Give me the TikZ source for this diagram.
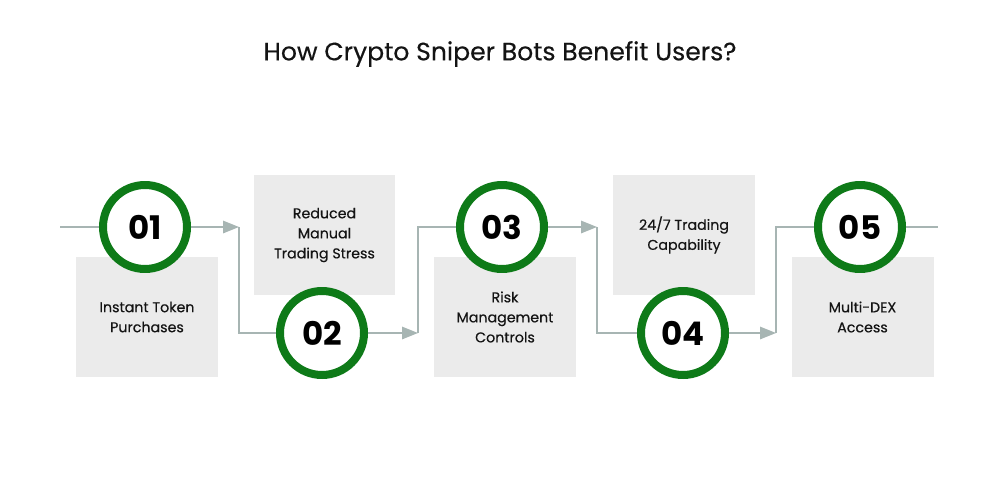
\documentclass[tikz,border=0pt]{standalone}
\usepackage{fontspec}
\setmainfont{Poppins}
\newfontfamily\medfont{Poppins}[FakeBold=0.35]
\usetikzlibrary{arrows.meta}
\definecolor{ring}{HTML}{0E7A18}
\definecolor{boxbg}{HTML}{EBEBEB}
\definecolor{connc}{HTML}{A7B5B3}
\definecolor{ink}{HTML}{141414}
\begin{document}
\begin{tikzpicture}[x=0.02cm,y=-0.02cm,
  card/.style={fill=boxbg, draw=none, minimum width=2.84cm, minimum height=2.4cm, inner sep=0pt, align=center, text=ink, font=\medfont\fontsize{8.1}{11.4}\selectfont},
  ringnode/.style={circle, draw=ring, line width=0.16cm, fill=white, minimum size=1.68cm, inner sep=0pt, text=black, font=\fontsize{18.5}{18.5}\selectfont\bfseries},
  conn/.style={draw=connc, line width=0.03cm},
  arr/.style={-{Triangle[length=0.32cm,width=0.25cm]}, fill=connc}
]
\useasboundingbox (0,0) rectangle (1000,500);
\node[text=ink, font=\medfont\fontsize{14.3}{17}\selectfont] (title) at (500,54) {How Crypto Sniper Bots Benefit Users?};
% boxes
\node[card] (b1) at (147,317) {Instant Token\\Purchases};
\node[card] (b2) at (324.5,235) {Reduced\\Manual\\Trading Stress};
\node[card] (b3) at (505,317) {Risk\\Management\\Controls};
\node[card] (b4) at (684,235) {24/7 Trading\\Capability};
\node[card] (b5) at (862.5,317) {Multi-DEX\\Access};
% circles
\node[ringnode] (c1) at (145,227) {01};
\node[ringnode] (c2) at (322,333) {02};
\node[ringnode] (c3) at (502,227) {03};
\node[ringnode] (c4) at (683,333) {04};
\node[ringnode] (c5) at (860,227) {05};
% connectors
\coordinate (s) at (60,227);
\coordinate (e) at (938,227);
\coordinate (a1) at (239,227);
\coordinate (a2) at (418,333);
\coordinate (a3) at (597,227);
\coordinate (a4) at (776,333);
\draw[conn] (s) -- (c1);
\draw[conn,arr] (c1) -- (a1);
\draw[conn] (a1) |- (c2);
\draw[conn,arr] (c2) -- (a2);
\draw[conn] (a2) |- (c3);
\draw[conn,arr] (c3) -- (a3);
\draw[conn] (a3) |- (c4);
\draw[conn,arr] (c4) -- (a4);
\draw[conn] (a4) |- (c5);
\draw[conn] (c5) -- (e);
\end{tikzpicture}
\end{document}
